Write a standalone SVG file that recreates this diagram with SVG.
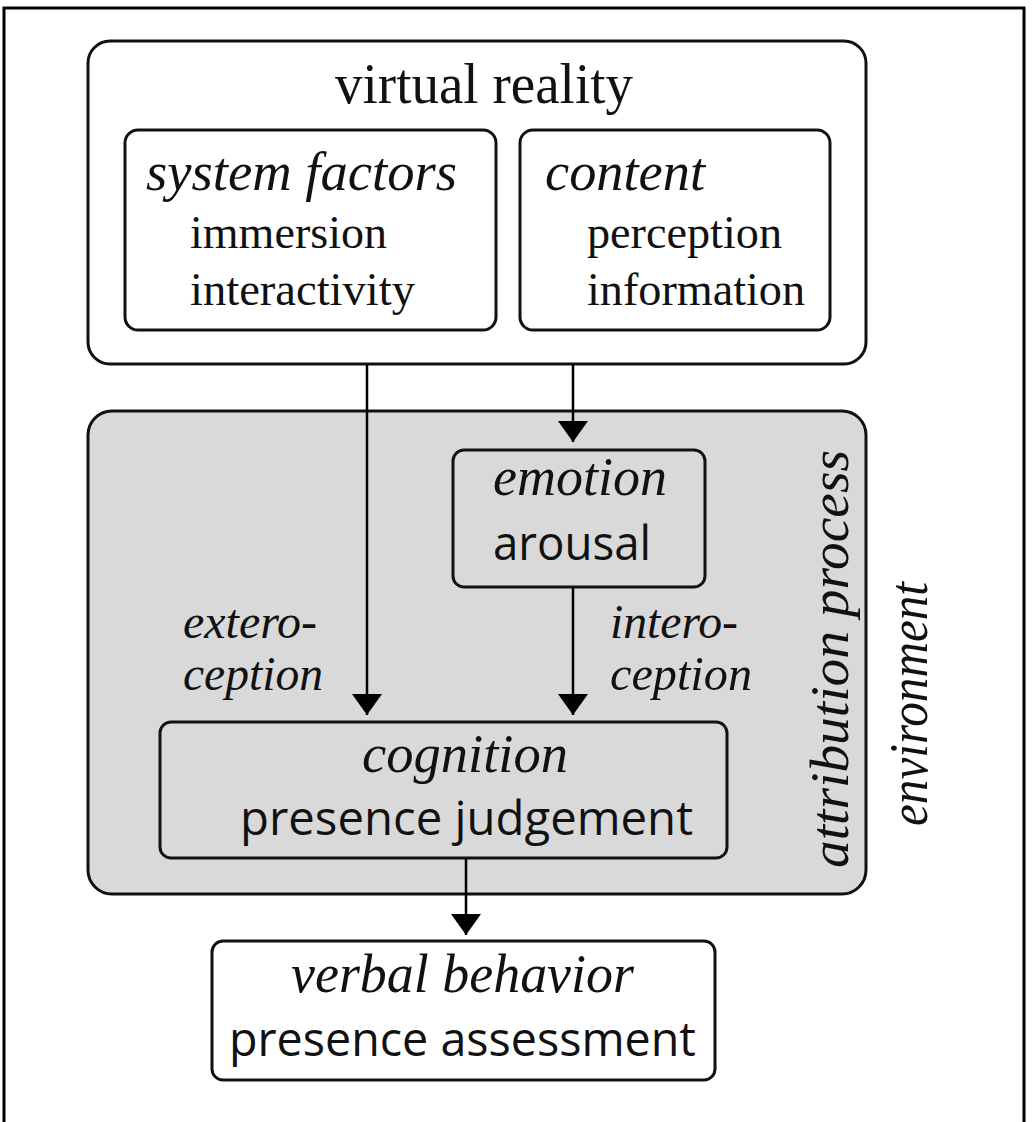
<svg xmlns="http://www.w3.org/2000/svg" width="1033" height="1122" viewBox="0 0 1033 1122">
<style>
.frame{fill:none;stroke:#000;stroke-width:3}
.box{fill:#fff;stroke:#111;stroke-width:3}
.gbox{fill:#d9d9d9;stroke:#111;stroke-width:3}
.con{stroke:#000;stroke-width:2.5;fill:none;marker-end:url(#ah)}
.serif{font-family:"Liberation Serif","Times New Roman",serif;fill:#111}
.it{font-style:italic}
.sans{font-family:"Open Sans","Noto Sans",sans-serif;fill:#111}
</style>
<defs>
<marker id="ah" markerUnits="userSpaceOnUse" markerWidth="21" markerHeight="30" refX="21" refY="15" orient="auto" viewBox="0 0 21 30">
<path d="M0,0 L21,15 L0,30 z" fill="#000"/>
</marker>
</defs>
<rect width="1033" height="1122" fill="#fff"/>
<path class="frame" d="M4,1122 V8 H1024 V1122"/>

<g id="virtual-reality">
<rect class="box" x="88" y="41" width="778" height="323" rx="22"/>
<text class="serif" x="335" y="103" font-size="56" textLength="298" lengthAdjust="spacingAndGlyphs">virtual reality</text>
</g>
<g id="system-factors">
<rect class="box" x="125" y="130" width="371" height="200" rx="13"/>
<text class="serif it" x="146" y="190" font-size="55" textLength="311" lengthAdjust="spacingAndGlyphs">system factors</text>
<text class="serif" x="190" y="248" font-size="47" textLength="197" lengthAdjust="spacingAndGlyphs">immersion</text>
<text class="serif" x="190" y="305" font-size="47" textLength="225" lengthAdjust="spacingAndGlyphs">interactivity</text>
</g>
<g id="content">
<rect class="box" x="520" y="130" width="310" height="200" rx="13"/>
<text class="serif it" x="545" y="190" font-size="55" textLength="160" lengthAdjust="spacingAndGlyphs">content</text>
<text class="serif" x="587" y="248" font-size="47" textLength="195" lengthAdjust="spacingAndGlyphs">perception</text>
<text class="serif" x="587" y="305" font-size="47" textLength="218" lengthAdjust="spacingAndGlyphs">information</text>
</g>

<g id="attribution-process">
<rect class="gbox" x="88" y="411" width="778" height="483" rx="24"/>
<text class="serif it" transform="translate(848,868) rotate(-90)" x="0" y="0" font-size="55" textLength="418" lengthAdjust="spacingAndGlyphs">attribution process</text>
</g>
<g id="environment">
<text class="serif it" transform="translate(927,826) rotate(-90)" x="0" y="0" font-size="54" textLength="244" lengthAdjust="spacingAndGlyphs">environment</text>
</g>
<g id="emotion">
<rect class="gbox" x="453" y="450" width="252" height="137" rx="11"/>
<text class="serif it" x="493" y="495" font-size="55" textLength="174" lengthAdjust="spacingAndGlyphs">emotion</text>
<text class="sans" x="493" y="560" font-size="47" textLength="158" lengthAdjust="spacingAndGlyphs">arousal</text>
</g>
<g id="labels">
<text class="serif it" x="183" y="638" font-size="48" textLength="134" lengthAdjust="spacingAndGlyphs">extero-</text>
<text class="serif it" x="183" y="690" font-size="48" textLength="140" lengthAdjust="spacingAndGlyphs">ception</text>
<text class="serif it" x="610" y="638" font-size="48" textLength="128" lengthAdjust="spacingAndGlyphs">intero-</text>
<text class="serif it" x="610" y="690" font-size="48" textLength="142" lengthAdjust="spacingAndGlyphs">ception</text>
</g>
<g id="cognition">
<rect class="gbox" x="160" y="722" width="567" height="136" rx="11"/>
<text class="serif it" x="362" y="772" font-size="55" textLength="206" lengthAdjust="spacingAndGlyphs">cognition</text>
<text class="sans" x="240" y="835" font-size="47" textLength="453" lengthAdjust="spacingAndGlyphs">presence judgement</text>
</g>
<g id="verbal-behavior">
<rect class="box" x="212" y="941" width="503" height="139" rx="11"/>
<text class="serif it" x="291" y="992" font-size="55" textLength="343" lengthAdjust="spacingAndGlyphs">verbal behavior</text>
<text class="sans" x="229" y="1056" font-size="47" textLength="467" lengthAdjust="spacingAndGlyphs">presence assessment</text>
</g>

<g id="connectors">
<line class="con" x1="367" y1="364" x2="367" y2="715"/>
<line class="con" x1="573" y1="364" x2="573" y2="442"/>
<line class="con" x1="573" y1="587" x2="573" y2="715"/>
<line class="con" x1="466" y1="858" x2="466" y2="935"/>
</g>
</svg>
